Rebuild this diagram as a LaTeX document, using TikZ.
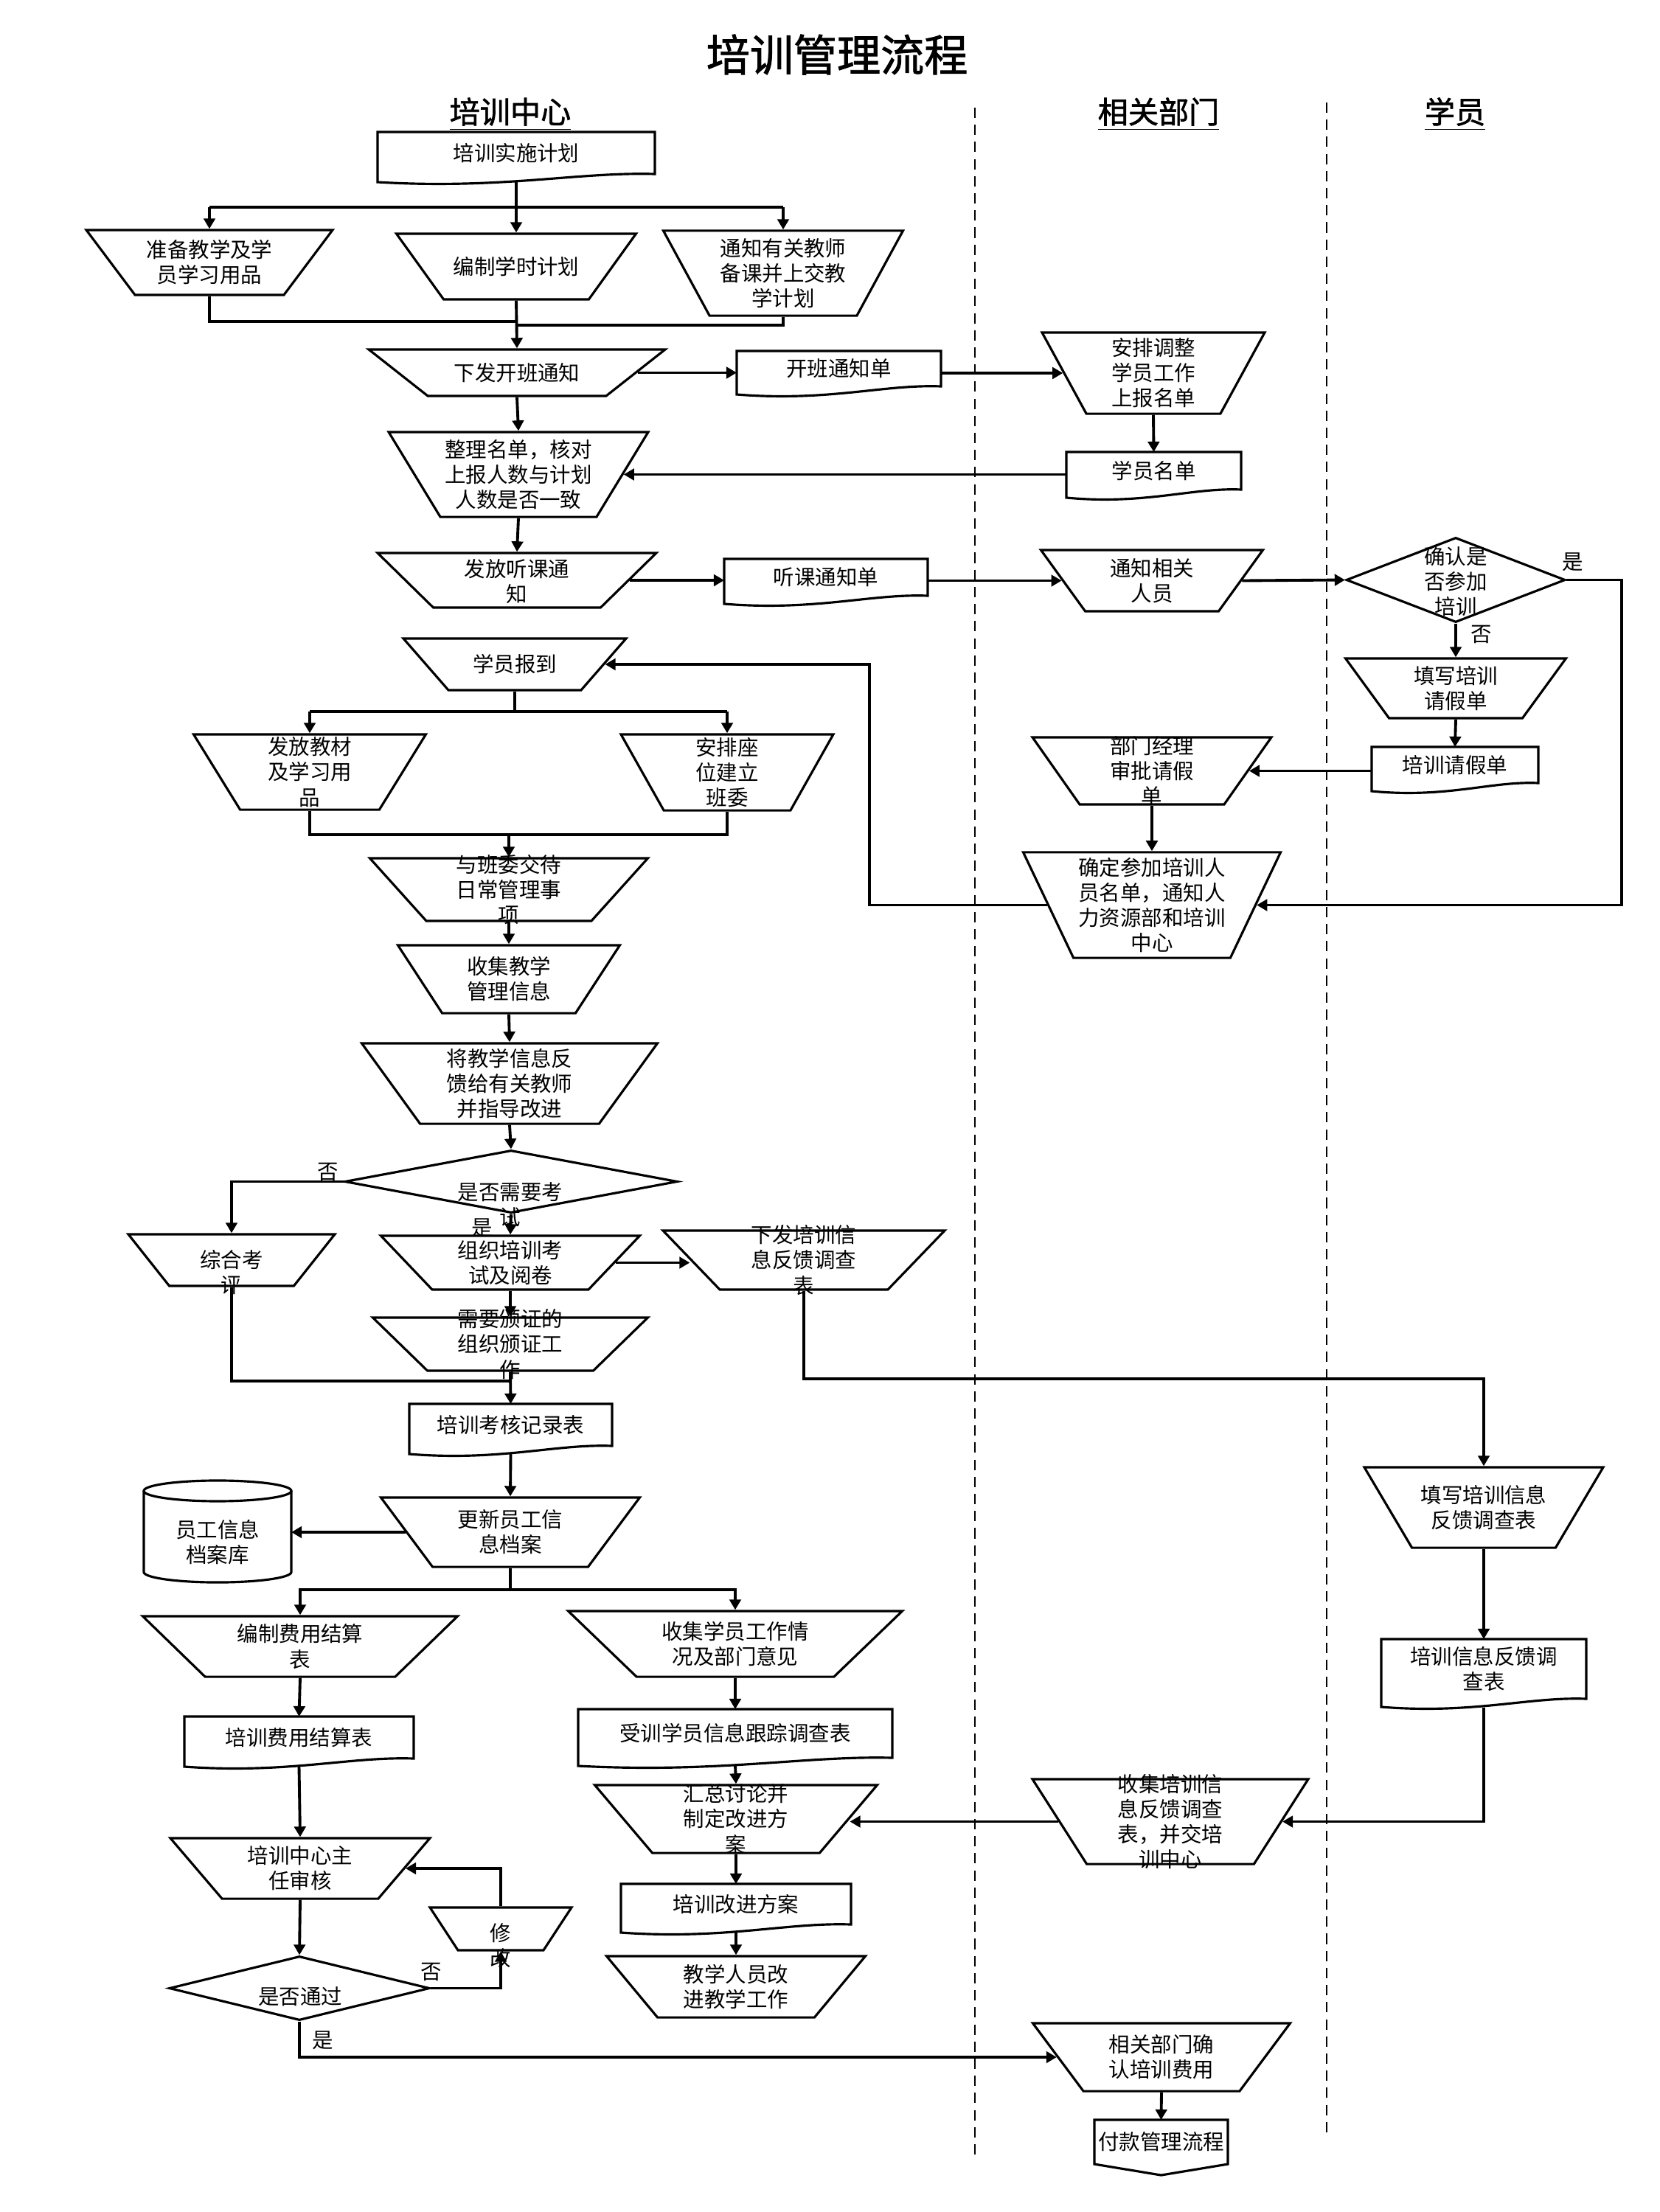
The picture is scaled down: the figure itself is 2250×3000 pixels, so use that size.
\documentclass[tikz,border=0pt]{standalone}
\usepackage{fontspec}
\setmainfont{Noto Sans CJK SC}
\newfontfamily\cjkb[FakeBold=1.5]{Noto Sans CJK SC}
\usetikzlibrary{shapes.geometric,arrows.meta,calc}
\newcommand\txtfont{\fontsize{8.1}{9.7}\selectfont}
\tikzset{
  shp/.style={draw=black, line width=0.9pt, line join=miter},
  trap/.style={shp, trapezium, trapezium stretches body, shape border rotate=180, inner xsep=0pt},
  dia/.style={shp, diamond, inner sep=0pt},
  docnode/.style={rectangle, inner sep=0pt, outer sep=0pt, align=center, font=\txtfont},
  txt/.style={align=center, inner sep=0pt, font=\txtfont},
  conn/.style={line width=1.1pt, -{Triangle[length=4pt,width=4.4pt]}},
  link/.style={line width=1.1pt},
  lane/.style={line width=0.8pt, dash pattern=on 4pt off 2.6pt},
  yn/.style={inner sep=0pt, font=\txtfont},
}
% \trap[text shift]{name}{cx}{top}{bottom}{W}{w}{text}
\newcommand\trap[8][0]{%
  \pgfmathsetmacro\trY{(#4+#5)/2}%
  \pgfmathsetmacro\trH{#5-#4}%
  \pgfmathsetmacro\trA{atan(2*\trH/(#6-#7))}%
  \node[trap, minimum width=#6*0.01cm, inner ysep=\trH*0.005cm, trapezium angle=\trA] (#2) at (#3,\trY) {};
  \node[txt] (#2x) at ([yshift=-#1*0.01cm]#2.center) {#8};
}
% \docu{name}{x1}{x2}{top}{yr}{text}
\newcommand\docu[6]{%
  \node[docnode, minimum width={(#3-#2)*0.01cm}, minimum height={(#5-#4)*0.01cm}] (#1) at ({(#2+#3)/2},{(#4+#5)/2}) {#6};
  \draw[shp] (#1.north west) -- (#1.north east) -- (#1.south east)
    .. controls ($(#1.south west)!0.72!(#1.south east)+(0,-3)$) and ($(#1.south west)!0.45!(#1.south east)+(0,21)$) ..
    ([yshift=-0.11cm]#1.south west) -- cycle;
}
\begin{document}
\begin{tikzpicture}[x=0.01cm, y=-0.01cm]
\fill[white] (0,0) rectangle (2250,3000);
\useasboundingbox (0,0) rectangle (2250,3000);

% lanes
\coordinate (l1a) at (1322,146); \coordinate (l1b) at (1322,2929);
\coordinate (l2a) at (1799,139); \coordinate (l2b) at (1799,2897);
\draw[lane] (l1a) -- (l1b);
\draw[lane] (l2a) -- (l2b);

% title and headers
\node[inner sep=0pt, font=\cjkb\fontsize{16.8}{20}\selectfont] (title) at (1135,74) {培训管理流程};
\node[inner sep=0pt, font=\cjkb\fontsize{11.7}{14}\selectfont] (h1) at (692,155) {\underline{培训中心}};
\node[inner sep=0pt, font=\cjkb\fontsize{11.7}{14}\selectfont] (h2) at (1571,155) {\underline{相关部门}};
\node[inner sep=0pt, font=\cjkb\fontsize{11.7}{14}\selectfont] (h3) at (1973,155) {\underline{学员}};

% documents
\docu{k0}{512}{888}{179}{236}{培训实施计划}
\docu{k1}{999}{1276}{476}{524}{开班通知单}
\docu{kx}{1446}{1683}{613}{664}{学员名单}
\docu{k2}{982}{1258}{758}{808}{听课通知单}
\docu{k4}{1860}{2086}{1013}{1062}{培训请假单}
\docu{k3}{555}{830}{1904}{1961}{培训考核记录表}
\docu{k5}{250}{561}{2328}{2385}{培训费用结算表}
\docu{k6}{784}{1210}{2318}{2384}{受训学员信息跟踪调查表}
\docu{k7}{842}{1154}{2555}{2610}{培训改进方案}
\docu{k8}{1873}{2151}{2223}{2304}{培训信息反馈调\\查表}

% trapezoids
\trap{t1}{284}{312}{400}{334}{202}{准备教学及学\\员学习用品}
\trap{t2}{700}{317}{406}{325}{197}{编制学时计划}
\trap{t3}{1062}{313}{428}{325}{200}{通知有关教师\\备课并上交教\\学计划}
\trap{t4}{701}{474}{537}{402}{242}{下发开班通知}
\trap{t5}{1564}{451}{561}{302}{182}{安排调整\\学员工作\\上报名单}
\trap{t6}{703}{586}{701}{352}{212}{整理名单，核对\\上报人数与计划\\人数是否一致}
\trap[2]{t7}{701}{750}{824}{378}{227}{发放听课通\\知}
\trap{t8}{1562}{746}{829}{301}{181}{通知相关\\人员}
\trap{t9}{1974}{893}{974}{299}{181}{填写培训\\请假单}
\trap{t10}{1562}{1000}{1091}{324}{196}{部门经理\\审批请假\\单}
\trap{t11}{1562}{1156}{1299}{349}{213}{确定参加培训人\\员名单，通知人\\力资源部和培训\\中心}
\trap{t12}{698}{866}{936}{302}{180}{学员报到}
\trap{t13}{420}{996}{1098}{315}{189}{发放教材\\及学习用\\品}
\trap{t14}{986}{996}{1099}{288}{172}{安排座\\位建立\\班委}
\trap{t15}{690}{1164}{1249}{377}{224}{与班委交待\\日常管理事\\项}
\trap{t16}{690}{1282}{1374}{301}{181}{收集教学\\管理信息}
\trap{t17}{691}{1415}{1524}{401}{243}{将教学信息反\\馈给有关教师\\并指导改进}
\trap[17]{t18}{314}{1674}{1744}{280}{169}{综合考\\评}
\trap{t19}{692}{1676}{1749}{351}{212}{组织培训考\\试及阅卷}
\trap{t20}{1090}{1669}{1749}{382}{228}{下发培训信\\息反馈调查\\表}
\trap{t21}{2012}{1990}{2099}{324}{195}{填写培训信息\\反馈调查表}
\trap{t22}{692}{1787}{1859}{373}{225}{需要颁证的\\组织颁证工\\作}
\trap{t23}{692}{2031}{2125}{351}{211}{更新员工信\\息档案}
\trap{t24}{407}{2192}{2274}{427}{258}{编制费用结算\\表}
\trap{t25}{997}{2185}{2274}{453}{268}{收集学员工作情\\况及部门意见}
\trap{t26}{407}{2493}{2575}{352}{212}{培训中心主\\任审核}
\trap[23]{t27}{679}{2587}{2645}{192}{116}{修\\改}
\trap{t28}{1575}{2744}{2836}{349}{212}{相关部门确\\认培训费用}
\trap{t29}{998}{2421}{2513}{383}{227}{汇总讨论并\\制定改进方\\案}
\trap{t30}{1587}{2413}{2528}{374}{227}{收集培训信\\息反馈调查\\表，并交培\\训中心}
\trap{t31}{998}{2653}{2736}{351}{213}{教学人员改\\进教学工作}

% diamonds
\node[dia, minimum width=2.97cm, minimum height=1.15cm] (d1) at (1974,786.5) {};
\node[txt] (d1x) at (1974,789) {确认是\\否参加\\培训};
\node[dia, minimum width=4.51cm, minimum height=0.85cm] (d2) at (693,1602.5) {};
\node[txt] (d2x) at (692,1634) {是否需要考\\试};
\node[dia, minimum width=3.53cm, minimum height=0.87cm] (d3) at (406,2696.5) {};
\node[txt] (d3x) at (407,2708) {是否通过};

% database cylinder
\node[docnode, minimum width=2cm, minimum height=1.38cm] (db) at (295,2077) {};
\draw[shp] ([yshift=-0.14cm]db.north) ellipse [x radius=1cm, y radius=0.14cm];
\draw[shp] ([yshift=-0.14cm]db.north west) -- ([yshift=0.14cm]db.south west)
  arc[start angle=180, end angle=360, x radius=1cm, y radius=0.14cm] -- ([yshift=-0.14cm]db.north east);
\node[txt] (dbx) at (295,2092) {员工信息\\档案库};

% off-page connector
\node[docnode, minimum width=1.81cm, minimum height=0.60cm] (p1) at (1574.5,2905) {付款管理流程};
\draw[shp] (p1.north west) -- (p1.north east) -- (p1.south east) -- ([yshift=-0.15cm]p1.south) -- (p1.south west) -- cycle;

% yes / no labels
\node[yn] (y1) at (2133,762) {是};
\node[yn] (n1) at (2009,860) {否};
\node[yn] (n2) at (445,1589) {否};
\node[yn] (y2) at (654,1665) {是};
\node[yn] (n3) at (585,2674) {否};
\node[yn] (y3) at (438,2767) {是};

% connectors
\coordinate (bar1) at (0,281);
\draw[link] ([yshift=-0.10cm]k0.south) -- (k0.south |- bar1);
\draw[link] (t1.90 |- bar1) -- (t3.90 |- bar1);
\draw[conn] (t1.90 |- bar1) -- (t1.90);
\draw[conn] (k0.south |- bar1) -- (t2.90);
\draw[conn] (t3.90 |- bar1) -- (t3.90);
\coordinate (m1) at (0,436); \coordinate (m2) at (0,441);
\draw[link] (t1.270) |- (t2.270 |- m1);
\draw[link] (t3.270) |- (t2.270 |- m2);
\draw[conn] (t2.270) -- (t4.90);
\draw[conn] (t4.0) -- (t4.0 -| k1.west);
\draw[conn] (t5.180 -| k1.east) -- (t5.180);
\draw[conn] (t5.270) -- (kx.north);
\draw[conn] (t6.0 -| kx.west) -- (t6.0);
\draw[conn] (t4.270) -- (t6.90);
\draw[conn] (t6.270) -- (t7.90);
\draw[conn] (t7.0) -- (t7.0 -| k2.west);
\draw[conn] (t8.180 -| k2.east) -- (t8.180);
\draw[conn] (t8.0) -- (d1.west);
\coordinate (yesR) at (2199,0);
\draw[conn] (d1.east) -- (d1.east -| yesR) |- (t11.0);
\draw[conn] (d1.south) -- (t9.90);
\draw[conn] (t9.270) -- (k4.north);
\draw[conn] (t10.0 -| k4.west) -- (t10.0);
\draw[conn] (t10.270) -- (t11.90);
\coordinate (backL) at (1179,0);
\draw[conn] (t11.180) -- (t11.180 -| backL) |- (t12.0);
\coordinate (b2) at (0,965);
\draw[link] (t12.270) -- (t12.270 |- b2);
\draw[link] (t13.90 |- b2) -- (t14.90 |- b2);
\draw[conn] (t13.90 |- b2) -- (t13.90);
\draw[conn] (t14.90 |- b2) -- (t14.90);
\coordinate (m3) at (0,1132);
\draw[link] (t13.270) -- (t13.270 |- m3) -- (t14.270 |- m3) -- (t14.270);
\draw[conn] (t15.90 |- m3) -- (t15.90);
\draw[conn] (t15.270) -- (t16.90);
\draw[conn] (t16.270) -- (t17.90);
\draw[conn] (t17.270) -- (d2.north);
\draw[conn] (d2.west) -| (t18.90);
\draw[conn] (d2.south) -- (t19.90);
\draw[conn] (t19.0) -- (t19.0 -| t20.180);
\coordinate (m4) at (0,1870);
\draw[conn] (t20.270) -- (t20.270 |- m4) -| (t21.90);
\draw[conn] (t19.270) -- (t22.90);
\coordinate (m5) at (0,1873);
\draw[link] (t18.270) |- (t22.270 |- m5);
\draw[conn] (t22.270) -- (k3.north);
\draw[conn] ([yshift=-0.10cm]k3.south) -- (t23.90);
\draw[conn] (t23.180) -- (t23.180 -| db.east);
\coordinate (m6) at (0,2156);
\draw[link] (t23.270) -- (t23.270 |- m6);
\draw[conn] (t23.270 |- m6) -| (t24.90);
\draw[conn] (t23.270 |- m6) -| (t25.90);
\draw[conn] (t24.270) -- (k5.north);
\draw[conn] ([yshift=-0.10cm]k5.south) -- (t26.90);
\draw[conn] (t26.270) -- (d3.north);
\draw[conn] (d3.east) -| (t27.270);
\draw[conn] (t27.90) |- (t26.0);
\draw[conn] (d3.south) |- (t28.180);
\draw[conn] (t28.270) -- (p1.north);
\draw[conn] (t25.270) -- (k6.north);
\draw[conn] ([yshift=-0.10cm]k6.south) -- (t29.90);
\draw[conn] (t29.270) -- (k7.north);
\draw[conn] ([yshift=-0.10cm]k7.south) -- (t31.90);
\draw[conn] (t21.270) -- (k8.north);
\draw[conn] ([yshift=-0.12cm]k8.south) |- (t30.0);
\draw[conn] (t30.180) -- (t30.180 -| t29.0);
\end{tikzpicture}
\end{document}
